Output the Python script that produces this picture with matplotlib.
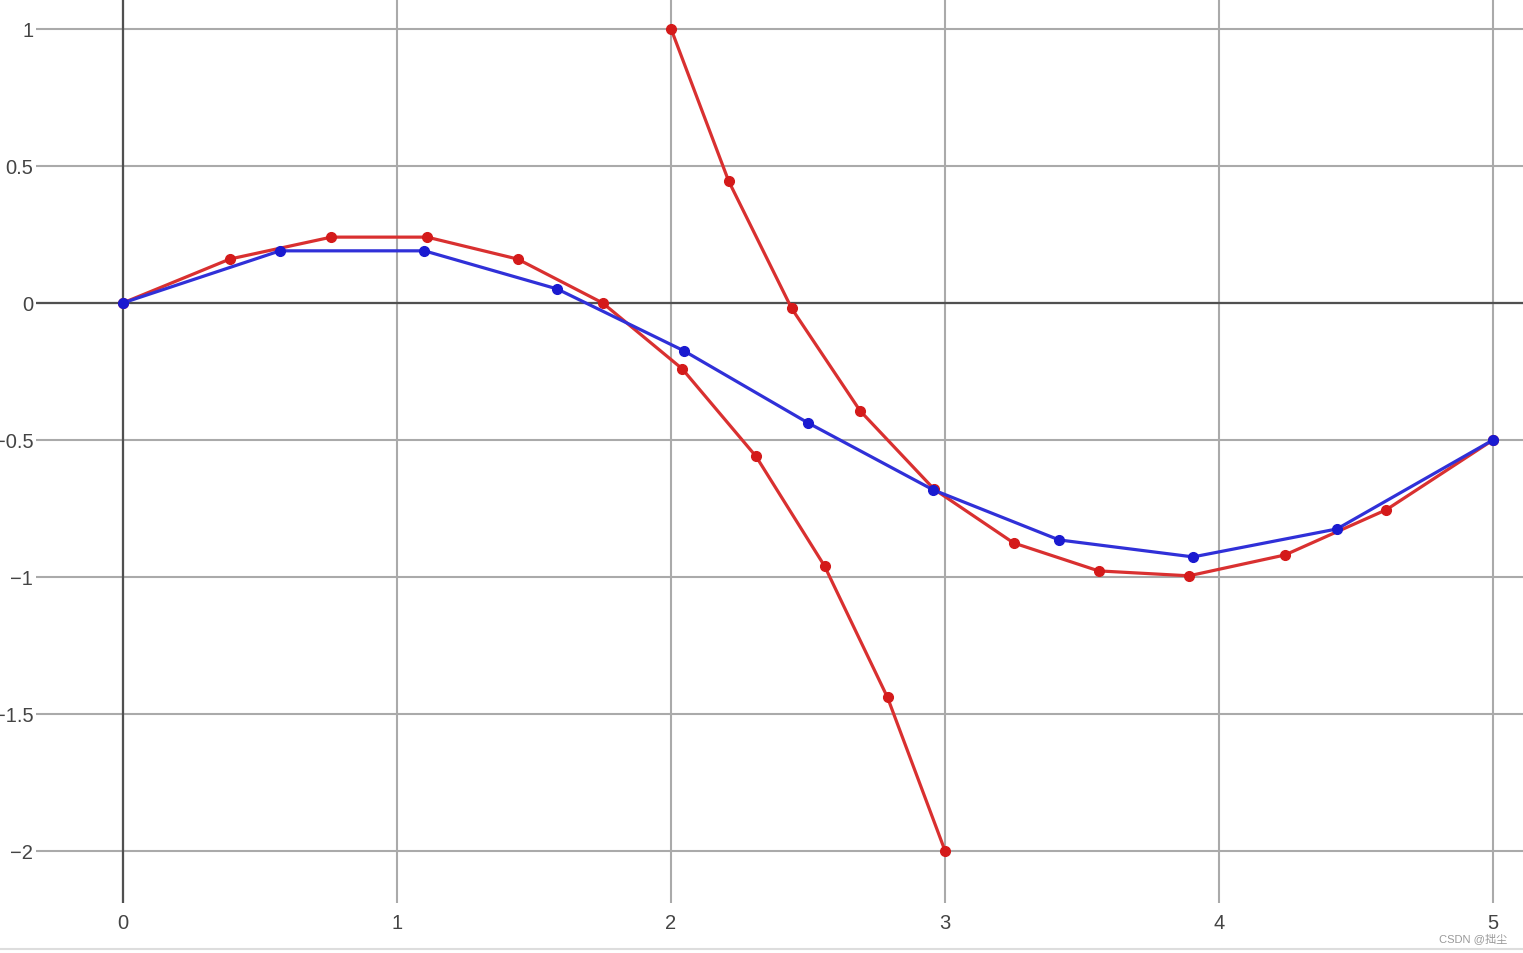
import matplotlib
matplotlib.use("Agg")
import matplotlib.pyplot as plt
from matplotlib.lines import Line2D

# Data
red1_x = [0, 0.39, 0.76, 1.11, 1.44, 1.75, 2.04, 2.31, 2.56, 2.79, 3.0]
red1_y = [0, 0.16, 0.24, 0.24, 0.16, 0.0, -0.24, -0.56, -0.96, -1.44, -2.0]

red2_x = [2.0, 2.21, 2.44, 2.69, 2.96, 3.25, 3.56, 3.89, 4.24, 4.61, 5.0]
red2_y = [1.0, 0.445, -0.02, -0.394, -0.68, -0.876, -0.978, -0.996, -0.92, -0.755, -0.5]

blue_x = [0, 0.573, 1.10, 1.584, 2.047, 2.5, 2.956, 3.416, 3.905, 4.43, 5.0]
blue_y = [0, 0.19, 0.19, 0.051, -0.175, -0.438, -0.682, -0.865, -0.927, -0.825, -0.5]

x_ticks = [0, 1, 2, 3, 4, 5]
y_ticks = [1, 0.5, 0, -0.5, -1, -1.5, -2]
y_tick_labels = ["1", "0.5", "0", "\u22120.5", "\u22121", "\u22121.5", "\u22122"]

plt.rcParams["font.family"] = ["Liberation Sans", "DejaVu Sans"]

W, H = 1523, 954
fig = plt.figure(figsize=(W / 100, H / 100), dpi=100)
ax = fig.add_axes([36 / W, (H - 904) / H, (W - 36) / W, 904 / H])

ax.set_xlim(-0.3175, 5.109)
ax.set_ylim(-2.19, 1.109)

for s in ax.spines.values():
    s.set_visible(False)

ax.set_xticks(x_ticks)
ax.set_xticklabels([str(v) for v in x_ticks])
ax.set_yticks(y_ticks)
ax.set_yticklabels(y_tick_labels)
ax.tick_params(axis="y", length=0, labelsize=14.5, colors="#444444", pad=2)
ax.tick_params(axis="x", length=0, labelsize=14.5, colors="#444444", pad=7)
ax.grid(True, color="#aaaaaa", linewidth=1.5)
ax.set_axisbelow(True)
ax.axhline(0, color="#505050", linewidth=1.6, zorder=1)
ax.axvline(0, color="#505050", linewidth=1.6, zorder=1)

red_line = "#d93030"
red_mk = "#d41a1a"
blue_line = "#3030d8"
blue_mk = "#1a1ad0"

for xs, ys in [(red1_x, red1_y), (red2_x, red2_y)]:
    ax.plot(xs, ys, color=red_line, linewidth=2.3, zorder=3, clip_on=False)
    ax.plot(xs, ys, linestyle="none", marker="o", markersize=7, color=red_mk,
            zorder=4, clip_on=False)
ax.plot(blue_x, blue_y, color=blue_line, linewidth=2.3, zorder=5, clip_on=False)
ax.plot(blue_x, blue_y, linestyle="none", marker="o", markersize=7, color=blue_mk,
        zorder=6, clip_on=False)

# bottom border line
fig.add_artist(Line2D([0, 1], [1 - 950 / H, 1 - 950 / H], transform=fig.transFigure,
                      color="#dddddd", linewidth=1.5))

fig.text(1473 / W, 1 - 939 / H, "CSDN @拙尘", ha="center", va="center", fontsize=8,
         color="#999999", family=["Liberation Sans", "Noto Sans CJK SC", "DejaVu Sans"])

fig.savefig("out.png", dpi=100)
